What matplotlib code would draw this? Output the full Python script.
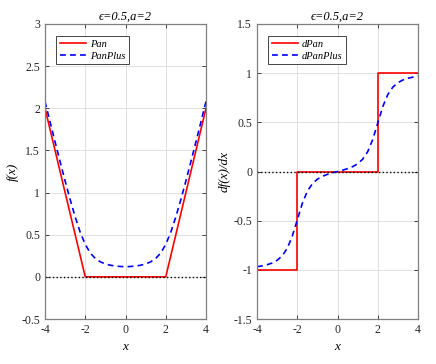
import numpy as np
import matplotlib
matplotlib.use('Agg')
import matplotlib.pyplot as plt

plt.rcParams['font.family'] = ['Liberation Serif', 'DejaVu Serif']
plt.rcParams['font.size'] = 9
plt.rcParams['axes.unicode_minus'] = False

# values
x_smooth = [-4.0, -3.75, -3.5, -3.25, -3.0, -2.75, -2.5, -2.25, -2.0, -1.75, -1.5,
            -1.25, -1.0, -0.75, -0.5, -0.25, 0.0, 0.25, 0.5, 0.75, 1.0, 1.25, 1.5,
            1.75, 2.0, 2.25, 2.5, 2.75, 3.0, 3.25, 3.5, 3.75, 4.0]
pan_plus = [2.081, 1.840, 1.602, 1.367, 1.137, 0.917, 0.711, 0.529, 0.385, 0.283,
            0.218, 0.178, 0.153, 0.138, 0.128, 0.123, 0.121, 0.123, 0.128, 0.138,
            0.153, 0.178, 0.218, 0.283, 0.385, 0.529, 0.711, 0.917, 1.137, 1.367,
            1.602, 1.840, 2.081]
dpan_plus = [-0.968, -0.960, -0.948, -0.931, -0.903, -0.858, -0.783, -0.660, -0.492,
             -0.325, -0.201, -0.125, -0.078, -0.049, -0.029, -0.013, 0.0, 0.013, 0.029,
             0.049, 0.078, 0.125, 0.201, 0.325, 0.492, 0.660, 0.783, 0.858, 0.903,
             0.931, 0.948, 0.960, 0.968]

x_pan = [-4, -2, 2, 4]
pan = [2, 0, 0, 2]
x_dpan = [-4, -2, -2, 2, 2, 4]
dpan = [-1, -1, 0, 0, 1, 1]

fig = plt.figure(figsize=(4.36, 3.64), dpi=100)
ax1 = fig.add_axes([45/436, 1 - 319/364, 161/436, 295/364])
ax2 = fig.add_axes([257/436, 1 - 319/364, 161/436, 295/364])

def style(ax, ylim, yticks):
    ax.set_xlim(-4, 4)
    ax.set_ylim(*ylim)
    ax.set_xticks([-4, -2, 0, 2, 4])
    ax.set_yticks(yticks)
    ax.set_yticklabels([('%g' % t) for t in yticks])
    ax.grid(True, color='#dcdcdc', linewidth=0.6)
    ax.set_axisbelow(True)
    ax.tick_params(direction='in', top=True, right=True, length=3,
                   width=0.6, colors='#262626', labelsize=8.5)
    for s in ax.spines.values():
        s.set_color('#7f7f7f')
        s.set_linewidth(0.9)
    ax.axhline(0, color='black', linestyle=':', linewidth=1.0)
    ax.set_xlabel('x', style='italic', fontsize=9.5)
    ax.set_title('\u03f5=0.5,a=2', style='italic', fontsize=9, pad=3)

ax1.plot(x_pan, pan, color='#ff0000', linewidth=1.2, label='Pan')
ax1.plot(x_smooth, pan_plus, color='#0000ff', linestyle='--', dashes=(3.5, 2.5),
         linewidth=1.2, label='PanPlus')
style(ax1, (-0.5, 3), [-0.5, 0, 0.5, 1, 1.5, 2, 2.5, 3])
ax1.set_ylabel('f(x)', style='italic', fontsize=9.5, labelpad=2)

ax2.plot(x_dpan, dpan, color='#ff0000', linewidth=1.2, label='dPan')
ax2.plot(x_smooth, dpan_plus, color='#0000ff', linestyle='--', dashes=(3.5, 2.5),
         linewidth=1.2, label='dPanPlus')
style(ax2, (-1.5, 1.5), [-1.5, -1, -0.5, 0, 0.5, 1, 1.5])
ax2.set_ylabel('df(x)/dx', style='italic', fontsize=9.5, labelpad=2)

for ax in (ax1, ax2):
    leg = ax.legend(loc='upper left', bbox_to_anchor=(0.07, 0.96), fancybox=False,
                    framealpha=1, edgecolor='#262626', handlelength=2.5,
                    borderpad=0.35, labelspacing=0.25, handletextpad=0.4,
                    borderaxespad=0, prop={'style': 'italic', 'size': 7.5})
    leg.get_frame().set_linewidth(0.6)

fig.savefig('out.png', dpi=100)
